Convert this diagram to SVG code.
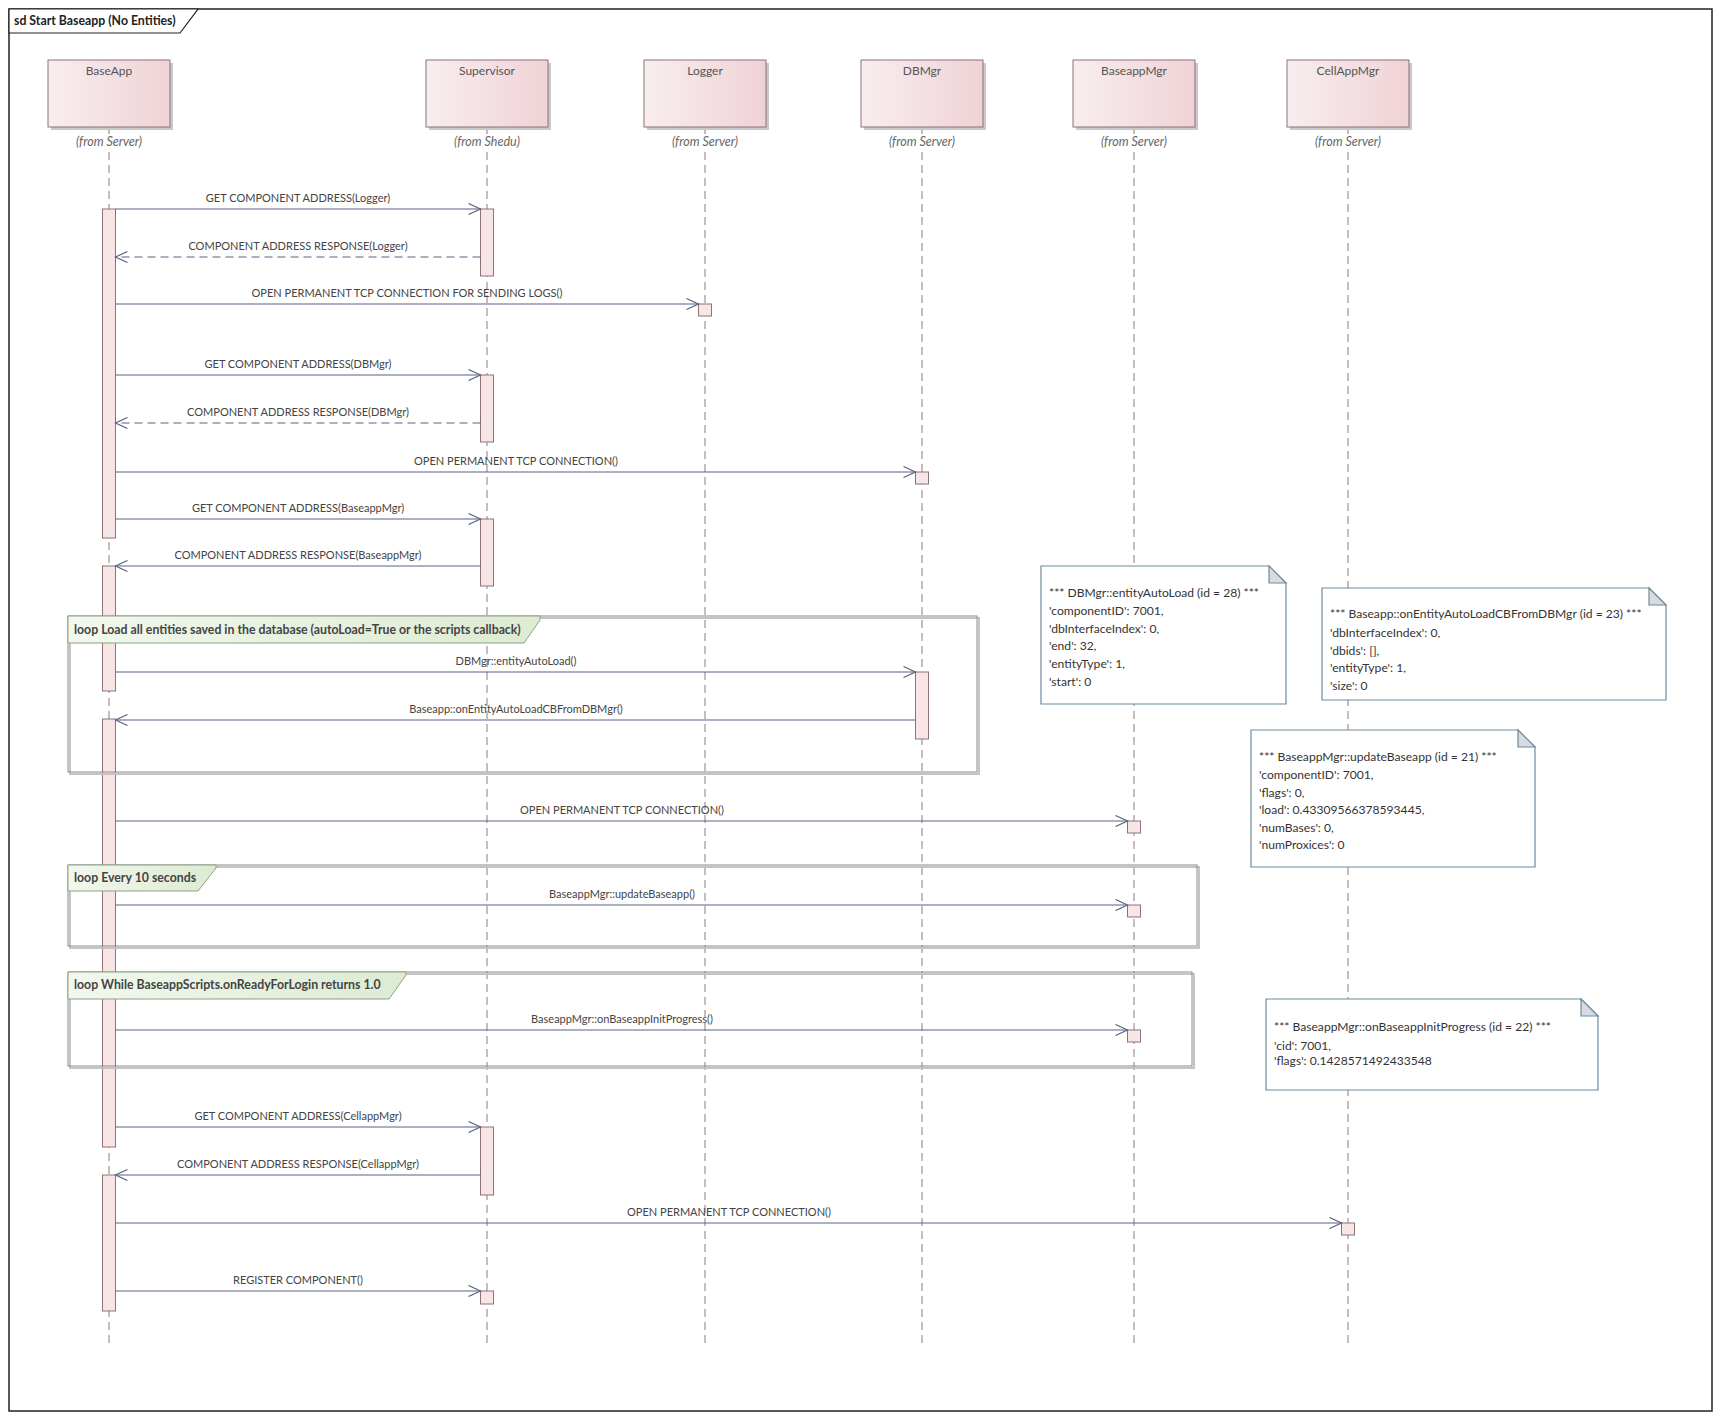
<svg xmlns="http://www.w3.org/2000/svg" width="1721" height="1419" viewBox="0 0 1721 1419">
<defs>
<linearGradient id="gBox" x1="0" y1="0" x2="1" y2="0">
<stop offset="0" stop-color="#f8eeef"/>
<stop offset="1" stop-color="#f0d2d6"/>
</linearGradient>
<linearGradient id="gTab" x1="0" y1="0" x2="1" y2="0">
<stop offset="0" stop-color="#f2f8ee"/>
<stop offset="1" stop-color="#dcebd2"/>
</linearGradient>
<marker id="arr" markerUnits="userSpaceOnUse" markerWidth="14" markerHeight="12" refX="12.5" refY="6" orient="auto">
<path d="M0.5,0.5 L12.5,6 L0.5,11.5" fill="none" stroke="#5b6282" stroke-width="1.2"/>
</marker>
<style>
.box{fill:url(#gBox);stroke:#8e7276;stroke-width:1}
.shadow{fill:#c9c9c9}
.lbl{font-family:Lato,"Liberation Sans",sans-serif;font-size:12px;fill:#555;text-anchor:middle}
.from{font-family:Lato,"Liberation Sans",sans-serif;font-size:12.5px;font-style:italic;fill:#666;text-anchor:middle}
.life{stroke:#8e7a7c;stroke-width:1;stroke-dasharray:8,5;fill:none}
.act{fill:#f8e6e6;stroke:#8e7276;stroke-width:1}
.msg{stroke:#5b6282;stroke-width:1.2;fill:none;marker-end:url(#arr)}
.ret{stroke-dasharray:8,5}
.mlbl{font-family:Lato,"Liberation Sans",sans-serif;font-size:11px;fill:#444;text-anchor:middle}
.frag{fill:none;stroke:#8a8a8a;stroke-width:1}
.fragsh{fill:none;stroke:#c4c4c4;stroke-width:2}
.tab{fill:url(#gTab);stroke:#8fa088;stroke-width:1}
.tabtxt{font-family:Lato,"Liberation Sans",sans-serif;font-size:12.3px;font-weight:bold;fill:#444}
.note{fill:#fff;stroke:#6f8a9c;stroke-width:1.2}
.fold{fill:#d6dce2;stroke:#6f8a9c;stroke-width:1.2}
.ntxt{font-family:Lato,"Liberation Sans",sans-serif;font-size:12.1px;fill:#333}
</style>
</defs>
<rect x="0" y="0" width="1721" height="1419" fill="#fff"/>
<g id="frame">
<rect x="9" y="9" width="1703" height="1402" fill="#fff" stroke="#222" stroke-width="1.5"/>
<polygon points="9,9 198,9 180,33 9,33" fill="#fff" stroke="#222" stroke-width="1.2"/>
<text x="14" y="25" font-family="Lato,'Liberation Sans',sans-serif" font-size="12.3" font-weight="bold" fill="#222">sd Start Baseapp (No Entities)</text>
</g>
<g id="lifelines">
<path class="life" d="M109,127 V134 M109,152 V1347"/>
<path class="life" d="M487,127 V134 M487,152 V1347"/>
<path class="life" d="M705,127 V134 M705,152 V1347"/>
<path class="life" d="M922,127 V134 M922,152 V1347"/>
<path class="life" d="M1134,127 V134 M1134,152 V1347"/>
<path class="life" d="M1348,127 V134 M1348,152 V1347"/>
</g>
<g id="BaseApp">
<rect class="shadow" x="51" y="63" width="122" height="67"/>
<rect class="box" x="48" y="60" width="122" height="67"/>
<text class="lbl" x="109" y="75">BaseApp</text>
<text class="from" x="109" y="146">(from Server)</text>
</g>
<g id="Supervisor">
<rect class="shadow" x="429" y="63" width="122" height="67"/>
<rect class="box" x="426" y="60" width="122" height="67"/>
<text class="lbl" x="487" y="75">Supervisor</text>
<text class="from" x="487" y="146">(from Shedu)</text>
</g>
<g id="Logger">
<rect class="shadow" x="647" y="63" width="122" height="67"/>
<rect class="box" x="644" y="60" width="122" height="67"/>
<text class="lbl" x="705" y="75">Logger</text>
<text class="from" x="705" y="146">(from Server)</text>
</g>
<g id="DBMgr">
<rect class="shadow" x="864" y="63" width="122" height="67"/>
<rect class="box" x="861" y="60" width="122" height="67"/>
<text class="lbl" x="922" y="75">DBMgr</text>
<text class="from" x="922" y="146">(from Server)</text>
</g>
<g id="BaseappMgr">
<rect class="shadow" x="1076" y="63" width="122" height="67"/>
<rect class="box" x="1073" y="60" width="122" height="67"/>
<text class="lbl" x="1134" y="75">BaseappMgr</text>
<text class="from" x="1134" y="146">(from Server)</text>
</g>
<g id="CellAppMgr">
<rect class="shadow" x="1290" y="63" width="122" height="67"/>
<rect class="box" x="1287" y="60" width="122" height="67"/>
<text class="lbl" x="1348" y="75">CellAppMgr</text>
<text class="from" x="1348" y="146">(from Server)</text>
</g>
<g id="activations">
<rect class="act" x="102.5" y="209" width="13" height="329"/>
<rect class="act" x="102.5" y="566" width="13" height="125"/>
<rect class="act" x="102.5" y="719" width="13" height="428"/>
<rect class="act" x="102.5" y="1175" width="13" height="136"/>
<rect class="act" x="480.5" y="209" width="13" height="67"/>
<rect class="act" x="480.5" y="375" width="13" height="67"/>
<rect class="act" x="480.5" y="519" width="13" height="67"/>
<rect class="act" x="480.5" y="1127" width="13" height="68"/>
<rect class="act" x="480.5" y="1291" width="13" height="13"/>
<rect class="act" x="698.5" y="304" width="13" height="12"/>
<rect class="act" x="915.5" y="472" width="13" height="12"/>
<rect class="act" x="915.5" y="672" width="13" height="67"/>
<rect class="act" x="1127.5" y="821" width="13" height="12"/>
<rect class="act" x="1127.5" y="905" width="13" height="12"/>
<rect class="act" x="1127.5" y="1030" width="13" height="12"/>
<rect class="act" x="1341.5" y="1223" width="13" height="12"/>
</g>
<g id="fragments">
<g id="loop1">
<rect class="fragsh" x="70" y="618" width="909" height="156"/>
<rect class="frag" x="68" y="616" width="909" height="156"/>
<polygon class="tab" points="68,616 540,616 540,620 524,643 68,643"/>
<text class="tabtxt" x="74" y="634">loop Load all entities saved in the database (autoLoad=True or the scripts callback)</text>
</g>
<g id="loop2">
<rect class="fragsh" x="70" y="867" width="1129" height="81"/>
<rect class="frag" x="68" y="865" width="1129" height="81"/>
<polygon class="tab" points="68,865 216,865 216,868 198,891 68,891"/>
<text class="tabtxt" x="74" y="882">loop Every 10 seconds</text>
</g>
<g id="loop3">
<rect class="fragsh" x="70" y="974" width="1124" height="94"/>
<rect class="frag" x="68" y="972" width="1124" height="94"/>
<polygon class="tab" points="68,972 406,972 406,975 389,999 68,999"/>
<text class="tabtxt" x="74" y="989">loop While BaseappScripts.onReadyForLogin returns 1.0</text>
</g>
</g>
<g id="connectors">
<line class="msg" x1="115.5" y1="209" x2="480.5" y2="209"/>
<text class="mlbl" x="298" y="201.5">GET COMPONENT ADDRESS(Logger)</text>
<line class="msg ret" x1="480.5" y1="257" x2="115.5" y2="257"/>
<text class="mlbl" x="298" y="249.5">COMPONENT ADDRESS RESPONSE(Logger)</text>
<line class="msg" x1="115.5" y1="304" x2="698.5" y2="304"/>
<text class="mlbl" x="407" y="296.5">OPEN PERMANENT TCP CONNECTION FOR SENDING LOGS()</text>
<line class="msg" x1="115.5" y1="375" x2="480.5" y2="375"/>
<text class="mlbl" x="298" y="367.5">GET COMPONENT ADDRESS(DBMgr)</text>
<line class="msg ret" x1="480.5" y1="423" x2="115.5" y2="423"/>
<text class="mlbl" x="298" y="415.5">COMPONENT ADDRESS RESPONSE(DBMgr)</text>
<line class="msg" x1="115.5" y1="472" x2="915.5" y2="472"/>
<text class="mlbl" x="516" y="464.5">OPEN PERMANENT TCP CONNECTION()</text>
<line class="msg" x1="115.5" y1="519" x2="480.5" y2="519"/>
<text class="mlbl" x="298" y="511.5">GET COMPONENT ADDRESS(BaseappMgr)</text>
<line class="msg" x1="480.5" y1="566" x2="115.5" y2="566"/>
<text class="mlbl" x="298" y="558.5">COMPONENT ADDRESS RESPONSE(BaseappMgr)</text>
<line class="msg" x1="115.5" y1="672" x2="915.5" y2="672"/>
<text class="mlbl" x="516" y="664.5">DBMgr::entityAutoLoad()</text>
<line class="msg" x1="915.5" y1="720" x2="115.5" y2="720"/>
<text class="mlbl" x="516" y="712.5">Baseapp::onEntityAutoLoadCBFromDBMgr()</text>
<line class="msg" x1="115.5" y1="821" x2="1127.5" y2="821"/>
<text class="mlbl" x="622" y="813.5">OPEN PERMANENT TCP CONNECTION()</text>
<line class="msg" x1="115.5" y1="905" x2="1127.5" y2="905"/>
<text class="mlbl" x="622" y="897.5">BaseappMgr::updateBaseapp()</text>
<line class="msg" x1="115.5" y1="1030" x2="1127.5" y2="1030"/>
<text class="mlbl" x="622" y="1022.5">BaseappMgr::onBaseappInitProgress()</text>
<line class="msg" x1="115.5" y1="1127" x2="480.5" y2="1127"/>
<text class="mlbl" x="298" y="1119.5">GET COMPONENT ADDRESS(CellappMgr)</text>
<line class="msg" x1="480.5" y1="1175" x2="115.5" y2="1175"/>
<text class="mlbl" x="298" y="1167.5">COMPONENT ADDRESS RESPONSE(CellappMgr)</text>
<line class="msg" x1="115.5" y1="1223" x2="1341.5" y2="1223"/>
<text class="mlbl" x="729" y="1215.5">OPEN PERMANENT TCP CONNECTION()</text>
<line class="msg" x1="115.5" y1="1291" x2="480.5" y2="1291"/>
<text class="mlbl" x="298" y="1283.5">REGISTER COMPONENT()</text>
</g>
<g id="note1">
<path class="note" d="M1041,566 H1269 L1286,583 V704 H1041 Z"/>
<path class="fold" d="M1269,566 L1286,583 H1269 Z"/>
<text class="ntxt"><tspan x="1049" y="597">*** DBMgr::entityAutoLoad (id = 28) ***</tspan><tspan x="1049" y="615">'componentID': 7001,</tspan><tspan x="1049" y="633">'dbInterfaceIndex': 0,</tspan><tspan x="1049" y="650">'end': 32,</tspan><tspan x="1049" y="668">'entityType': 1,</tspan><tspan x="1049" y="686">'start': 0</tspan></text>
</g>
<g id="note2">
<path class="note" d="M1322,588 H1649 L1666,605 V700 H1322 Z"/>
<path class="fold" d="M1649,588 L1666,605 H1649 Z"/>
<text class="ntxt"><tspan x="1330" y="618">*** Baseapp::onEntityAutoLoadCBFromDBMgr (id = 23) ***</tspan><tspan x="1330" y="637">'dbInterfaceIndex': 0,</tspan><tspan x="1330" y="655">'dbids': [],</tspan><tspan x="1330" y="672">'entityType': 1,</tspan><tspan x="1330" y="690">'size': 0</tspan></text>
</g>
<g id="note3">
<path class="note" d="M1251,730 H1518 L1535,747 V867 H1251 Z"/>
<path class="fold" d="M1518,730 L1535,747 H1518 Z"/>
<text class="ntxt"><tspan x="1259" y="761">*** BaseappMgr::updateBaseapp (id = 21) ***</tspan><tspan x="1259" y="779">'componentID': 7001,</tspan><tspan x="1259" y="797">'flags': 0,</tspan><tspan x="1259" y="814">'load': 0.43309566378593445,</tspan><tspan x="1259" y="832">'numBases': 0,</tspan><tspan x="1259" y="849">'numProxices': 0</tspan></text>
</g>
<g id="note4">
<path class="note" d="M1266,999 H1581 L1598,1016 V1090 H1266 Z"/>
<path class="fold" d="M1581,999 L1598,1016 H1581 Z"/>
<text class="ntxt"><tspan x="1274" y="1031">*** BaseappMgr::onBaseappInitProgress (id = 22) ***</tspan><tspan x="1274" y="1050">'cid': 7001,</tspan><tspan x="1274" y="1065">'flags': 0.1428571492433548</tspan></text>
</g>
</svg>
